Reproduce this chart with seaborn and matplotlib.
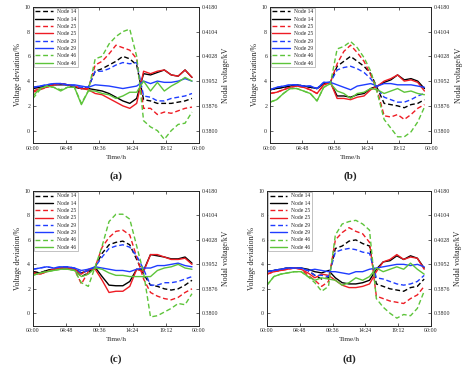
import matplotlib
matplotlib.use("Agg")
import matplotlib.pyplot as plt
import seaborn as sns

sns.set_style("ticks")
plt.rcParams['font.family'] = ['Liberation Serif', 'DejaVu Serif']

hours = list(range(24))
xtick_pos = [0, 4.8, 9.6, 14.4, 19.2, 24]
xtick_labels = ["00:00", "04:48", "09:36", "14:24", "19:12", "00:00"]
yticks_left = [0, 2, 4, 6, 8, 10]
yticks_right = ["0.3800", "0.3876", "0.3952", "0.4028", "0.4104", "0.4180"]
nodes = ["Node 14", "Node 25", "Node 29", "Node 46"]
panel_labels = ["(a)", "(b)", "(c)", "(d)"]

# Panel (a)
a14d = [3.4,3.5,3.6,3.7,3.8,3.7,3.5,3.4,3.5,4.8,5.0,5.3,5.6,6.0,5.8,5.3,2.5,2.4,2.2,2.2,2.2,2.3,2.4,2.6]
a14s = [3.5,3.5,3.6,3.7,3.7,3.7,3.5,3.4,3.4,3.3,3.2,3.0,2.7,2.4,2.2,2.6,4.6,4.5,4.7,4.9,4.5,4.4,4.9,4.3]
a25d = [3.1,3.3,3.5,3.7,3.8,3.7,3.6,3.4,3.4,5.3,5.6,6.2,6.9,6.7,6.5,5.8,1.8,1.8,1.3,1.5,1.4,1.6,1.8,1.9]
a25s = [3.2,3.4,3.5,3.7,3.8,3.7,3.6,3.4,3.3,3.0,2.9,2.6,2.3,2.0,1.8,2.2,4.8,4.6,4.8,4.9,4.5,4.4,4.9,4.3]
a29d = [3.5,3.6,3.7,3.8,3.8,3.7,3.6,3.5,3.5,4.8,4.8,5.0,5.3,5.5,5.4,5.5,2.8,2.7,2.4,2.4,2.6,2.7,2.8,3.0]
a29s = [3.5,3.6,3.7,3.8,3.8,3.7,3.7,3.6,3.5,3.7,3.65,3.6,3.5,3.4,3.5,3.6,4.0,3.8,4.0,3.9,3.9,4.0,4.2,4.0]
a46d = [2.6,3.3,3.6,3.5,3.3,3.5,3.5,2.2,3.2,5.8,6.0,7.0,7.6,8.0,8.2,6.0,0.8,0.3,0.0,-0.7,0.0,0.5,0.6,1.5]
a46s = [2.8,3.4,3.6,3.5,3.2,3.5,3.5,2.1,3.2,3.2,3.0,2.9,2.6,2.8,3.1,3.1,4.0,3.2,3.9,3.2,3.6,3.9,4.3,4.0]

# Panel (b)
b14d = [3.3,3.4,3.5,3.6,3.7,3.6,3.5,3.4,3.8,3.9,5.2,5.6,6.0,5.6,5.2,4.6,3.4,2.2,2.1,2.0,1.85,2.1,2.2,2.5]
b14s = [3.3,3.4,3.5,3.6,3.7,3.6,3.5,3.4,3.8,3.9,2.8,2.8,2.7,2.9,3.0,3.4,3.6,3.9,4.1,4.5,4.1,4.2,4.0,3.4]
b25d = [3.0,3.1,3.3,3.5,3.6,3.5,3.3,3.0,3.7,3.9,5.4,6.4,6.9,6.3,5.6,4.5,3.2,1.2,1.1,1.3,0.9,1.3,1.8,2.1]
b25s = [3.0,3.1,3.3,3.5,3.6,3.5,3.3,3.0,3.7,3.9,2.6,2.6,2.5,2.7,2.8,3.3,3.6,4.0,4.2,4.5,4.0,4.1,3.9,3.2]
b29d = [3.3,3.5,3.6,3.7,3.7,3.6,3.6,3.4,3.9,3.9,4.9,5.1,5.2,5.0,4.7,4.2,3.4,2.7,2.5,2.3,2.3,2.5,2.8,3.0]
b29s = [3.3,3.5,3.6,3.7,3.7,3.6,3.6,3.4,3.9,3.9,3.7,3.5,3.3,3.6,3.7,3.8,3.6,3.8,3.8,3.7,3.7,3.7,3.6,3.5]
b46d = [2.3,2.5,3.0,3.4,3.4,3.2,3.0,2.4,3.5,3.8,6.6,6.8,7.2,6.7,5.9,4.8,3.0,0.9,0.2,-0.5,-0.5,-0.1,0.7,1.9]
b46s = [2.3,2.5,3.0,3.4,3.4,3.2,3.0,2.4,3.5,3.8,3.2,3.0,2.6,3.0,3.1,3.4,3.3,3.0,3.2,3.4,3.1,3.2,3.0,2.9]

# Panel (c)
c14d = [3.4,3.3,3.5,3.6,3.7,3.7,3.6,3.0,3.3,3.8,4.9,5.6,5.8,5.9,5.6,4.4,3.2,2.3,2.2,2.0,1.9,2.0,2.3,2.7]
c14s = [3.4,3.3,3.5,3.6,3.7,3.7,3.6,3.3,3.5,3.75,3.0,2.3,2.25,2.25,2.6,3.6,3.5,4.8,4.7,4.6,4.45,4.45,4.6,4.1]
c25d = [3.3,3.2,3.4,3.6,3.7,3.7,3.6,2.4,3.4,3.8,5.4,6.2,6.7,6.8,6.4,4.6,2.8,1.7,1.4,1.2,1.1,1.3,1.7,2.0]
c25s = [3.3,3.2,3.4,3.6,3.7,3.7,3.6,3.2,3.6,3.6,2.7,1.7,1.8,1.8,2.2,3.6,3.4,4.8,4.8,4.6,4.4,4.4,4.5,4.0]
c29d = [3.6,3.7,3.8,3.7,3.8,3.8,3.7,3.3,3.5,3.8,4.6,5.3,5.5,5.6,5.4,4.7,3.6,2.3,2.3,2.5,2.5,2.6,2.8,3.0]
c29s = [3.6,3.7,3.8,3.7,3.8,3.8,3.7,3.5,3.6,3.8,3.7,3.6,3.5,3.5,3.4,3.6,3.7,3.7,3.9,3.9,4.0,4.1,3.9,3.8]
c46d = [3.1,3.3,3.4,3.5,3.6,3.6,3.5,2.5,2.2,3.8,5.5,7.5,8.1,8.1,7.7,5.5,3.3,-0.3,-0.2,0.1,0.4,0.8,0.7,1.6]
c46s = [3.1,3.3,3.4,3.5,3.6,3.6,3.5,3.0,3.2,3.7,3.6,3.3,3.1,3.1,3.0,3.0,3.0,3.0,3.5,3.7,3.8,4.0,3.7,3.6]

# Panel (d)
d14d = [3.4,3.5,3.6,3.7,3.7,3.7,3.5,3.1,2.8,2.9,5.3,5.5,5.9,6.0,5.7,5.5,2.4,2.2,2.0,1.9,1.8,2.1,2.2,2.8]
d14s = [3.4,3.5,3.6,3.7,3.7,3.7,3.6,3.4,3.3,3.5,2.9,2.5,2.4,2.4,2.5,2.7,3.6,4.2,4.3,4.7,4.4,4.7,4.5,3.7]
d25d = [3.2,3.4,3.5,3.6,3.7,3.6,3.1,2.7,2.2,2.6,6.0,6.6,7.0,6.7,6.5,5.8,1.4,1.2,1.0,0.9,0.8,1.2,1.5,2.2]
d25s = [3.2,3.4,3.5,3.6,3.7,3.6,3.3,2.9,3.2,3.1,2.7,2.3,2.1,2.1,2.2,2.4,3.4,4.2,4.4,4.8,4.4,4.6,4.5,3.6]
d29d = [3.4,3.5,3.6,3.7,3.7,3.7,3.5,3.1,3.1,3.0,5.0,5.2,5.3,5.2,5.0,4.9,2.9,2.8,2.6,2.4,2.3,2.4,2.6,3.1]
d29s = [3.4,3.5,3.6,3.7,3.7,3.7,3.5,3.6,3.5,3.4,3.4,3.3,3.2,3.4,3.4,3.6,3.7,3.8,3.9,4.0,4.0,3.9,4.0,3.8]
d46d = [2.3,3.0,3.2,3.3,3.4,3.4,3.0,2.5,1.8,2.2,6.4,7.3,7.5,7.6,7.3,6.8,1.2,0.5,0.0,-0.4,-0.1,-0.2,0.4,1.8]
d46s = [2.3,3.0,3.2,3.3,3.4,3.4,3.0,2.7,2.9,2.8,2.7,2.3,2.5,2.9,2.7,3.0,3.7,3.4,3.6,3.8,3.6,4.1,3.6,3.2]

panels = [
    [(a14d, a14s), (a25d, a25s), (a29d, a29s), (a46d, a46s)],
    [(b14d, b14s), (b25d, b25s), (b29d, b29s), (b46d, b46s)],
    [(c14d, c14s), (c25d, c25s), (c29d, c29s), (c46d, c46s)],
    [(d14d, d14s), (d25d, d25s), (d29d, d29s), (d46d, d46s)],
]
colors = ["#000000", "#ee1c24", "#1f3dff", "#5dc43a"]

fig = plt.figure(figsize=(4.74, 3.72), dpi=100)
rects = [
    [0.0696, 0.6156, 0.350, 0.366],
    [0.5696, 0.6156, 0.340, 0.366],
    [0.0696, 0.125, 0.350, 0.3616],
    [0.5633, 0.125, 0.346, 0.3616],
]

for i, (rect, series) in enumerate(zip(rects, panels)):
    ax = fig.add_axes(rect)
    for name, col, (dash_vals, solid_vals) in zip(nodes, colors, series):
        sns.lineplot(x=hours, y=dash_vals, ax=ax, color=col, lw=1.0, label=name)
        ax.lines[-1].set_dashes([3.5, 2.0])
        sns.lineplot(x=hours, y=solid_vals, ax=ax, color=col, lw=1.0, label=name)
    ax.set_xlim(0, 24)
    ax.set_ylim(-1, 10)
    ax.set_xticks(xtick_pos)
    ax.set_xticklabels(xtick_labels, fontsize=4.2)
    ax.set_yticks(yticks_left)
    ax.set_yticklabels([str(v) for v in yticks_left], fontsize=4.2)
    ax.tick_params(direction='in', length=2, width=0.5, pad=2, top=True)
    for sp in ax.spines.values():
        sp.set_linewidth(0.6)
        sp.set_visible(True)
    ax.set_xlabel("Time/h", fontsize=5.2, labelpad=3)
    ax.set_ylabel("Voltage deviation/%", fontsize=5.6, labelpad=2)
    leg = ax.legend(loc='upper left', fontsize=4.0, frameon=True, fancybox=False,
                    edgecolor='#aaaaaa', framealpha=1, borderpad=0.3,
                    labelspacing=0.42, handlelength=3.2, handletextpad=0.6,
                    borderaxespad=0.15)
    leg.get_frame().set_linewidth(0.5)
    ax2 = ax.twinx()
    ax2.set_ylim(-1, 10)
    ax2.set_yticks(yticks_left)
    ax2.set_yticklabels(yticks_right, fontsize=4.2)
    ax2.tick_params(direction='in', length=2, width=0.5, pad=2)
    ax2.set_ylabel("Nodal voltage/kV", fontsize=5.6, labelpad=3)
    for sp in ax2.spines.values():
        sp.set_linewidth(0.6)
    cx = rect[0] + rect[2] / 2
    fig.text(cx, rect[1] - 0.09, panel_labels[i], ha='center', va='center',
             fontsize=8, fontweight='bold')

fig.savefig("out.png", dpi=100)
